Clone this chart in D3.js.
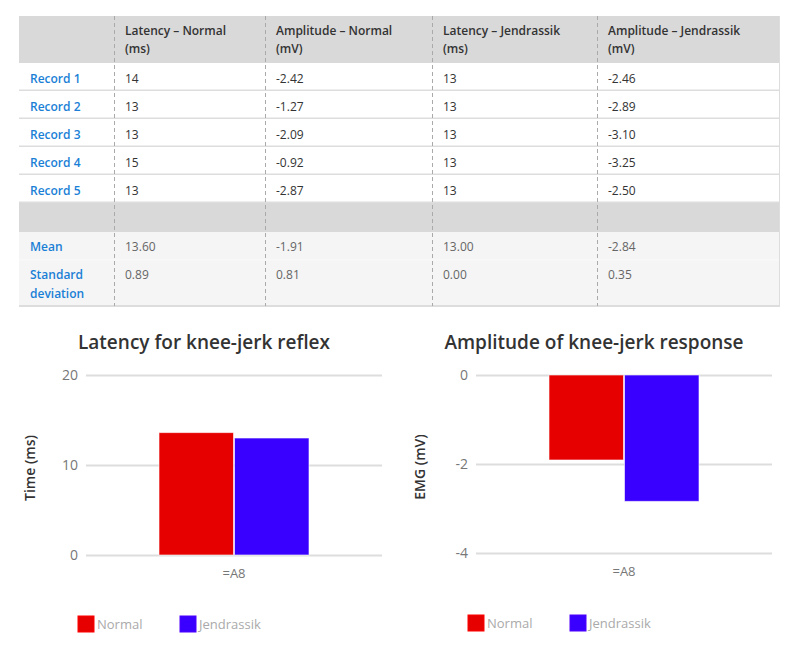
<!DOCTYPE html>
<html>
<head>
<meta charset="utf-8">
<script src="https://cdn.jsdelivr.net/npm/d3@7"></script>
<style>
  body { margin: 0; background: #fff; font-family: "Open Sans", sans-serif; }
  svg text { font-family: "Open Sans", sans-serif; }
</style>
</head>
<body>
<svg id="chart" width="791" height="648"></svg>
<script>
// table contents
var headers = [["", ""], ["Latency \u2013 Normal", "(ms)"], ["Amplitude \u2013 Normal", "(mV)"],
               ["Latency \u2013 Jendrassik", "(ms)"], ["Amplitude \u2013 Jendrassik", "(mV)"]];
var records = ["Record 1", "Record 2", "Record 3", "Record 4", "Record 5"];
var latencyNormal = ["14", "13", "13", "15", "13"];
var amplitudeNormal = ["-2.42", "-1.27", "-2.09", "-0.92", "-2.87"];
var latencyJendrassik = ["13", "13", "13", "13", "13"];
var amplitudeJendrassik = ["-2.46", "-2.89", "-3.10", "-3.25", "-2.50"];
var statLabels = [["Mean"], ["Standard", "deviation"]];
var statValues = [["13.60", "-1.91", "13.00", "-2.84"], ["0.89", "0.81", "0.00", "0.35"]];

// chart data
var series = ["Normal", "Jendrassik"];
var colors = ["#e60000", "#3a00ff"];
var category = ["=A8"];
var latencyMeans = [13.6, 13.0];
var amplitudeMeans = [-1.91, -2.84];
var latencyTicks = [0, 10, 20];
var amplitudeTicks = [0, -2, -4];

var svg = d3.select('#chart');

/* ---------- table ---------- */
var colX = [19, 114, 265, 432, 597, 780];
var tbl = svg.append('g').attr('class', 'table');

// header
tbl.append('rect').attr('x', 19).attr('y', 16).attr('width', 761).attr('height', 47).attr('fill', '#d9d9d9');
headers.forEach(function (h, i) {
    h.forEach(function (line, j) {
        tbl.append('text').attr('x', colX[i] + 11).attr('y', 35 + j * 18)
            .attr('font-size', 12).attr('font-weight', 600).attr('fill', '#333').text(line);
    });
});

// record rows
var rowTop = 63, rowH = 28;
records.forEach(function (r, i) {
    var y = rowTop + i * rowH;
    tbl.append('rect').attr('x', 19).attr('y', y).attr('width', 761).attr('height', rowH).attr('fill', '#fff');
    tbl.append('line').attr('x1', 19).attr('x2', 780).attr('y1', y + rowH - 0.5).attr('y2', y + rowH - 0.5)
        .attr('stroke', '#ddd').attr('stroke-width', 2);
    var vals = [r, latencyNormal[i], amplitudeNormal[i], latencyJendrassik[i], amplitudeJendrassik[i]];
    vals.forEach(function (v, c) {
        tbl.append('text').attr('x', colX[c] + 11).attr('y', y + 20)
            .attr('font-size', 12).attr('font-weight', c === 0 ? 600 : 400)
            .attr('fill', c === 0 ? '#1a7fd6' : '#333').text(v);
    });
});

// empty separator row
tbl.append('rect').attr('x', 19).attr('y', 203).attr('width', 761).attr('height', 29).attr('fill', '#d9d9d9');

// stats rows
tbl.append('rect').attr('x', 19).attr('y', 232).attr('width', 761).attr('height', 74).attr('fill', '#f5f5f5');
tbl.append('line').attr('x1', 19).attr('x2', 780).attr('y1', 260).attr('y2', 260).attr('stroke', '#fafafa');
tbl.append('line').attr('x1', 19).attr('x2', 780).attr('y1', 306).attr('y2', 306).attr('stroke', '#ddd').attr('stroke-width', 2);
tbl.append('line').attr('x1', 779.5).attr('x2', 779.5).attr('y1', 16).attr('y2', 306).attr('stroke', '#ddd');
var statY = [251, 279];
statLabels.forEach(function (lab, i) {
    lab.forEach(function (line, j) {
        tbl.append('text').attr('x', colX[0] + 11).attr('y', statY[i] + j * 19)
            .attr('font-size', 12).attr('font-weight', 600).attr('fill', '#1a7fd6').text(line);
    });
    statValues[i].forEach(function (v, c) {
        tbl.append('text').attr('x', colX[c + 1] + 11).attr('y', statY[i])
            .attr('font-size', 12).attr('fill', '#666').text(v);
    });
});

// dashed column dividers
colX.slice(1, 5).forEach(function (x) {
    tbl.append('line').attr('x1', x + 0.5).attr('x2', x + 0.5).attr('y1', 16).attr('y2', 306)
        .attr('stroke', '#aaa').attr('stroke-dasharray', '4,3');
});

/* ---------- bar charts ---------- */
function barChart(opt) {
    var g = svg.append('g');
    var y = d3.scaleLinear().domain(opt.domain).range([opt.bottom, opt.top]);
    var x0 = d3.scaleBand().domain(category).range([opt.left, opt.right]);
    var x1 = d3.scaleBand().domain(series).range([0, 150]).paddingInner(0.013);

    g.append('text').attr('x', opt.titleX).attr('y', 349).attr('text-anchor', 'middle')
        .attr('font-size', 19).attr('font-weight', 600).attr('fill', '#333').text(opt.title);

    var axis = d3.axisLeft(y).tickValues(opt.ticks).tickFormat(function (d) { return String(d); })
        .tickSize(-(opt.right - opt.left)).tickPadding(8);
    var ag = g.append('g').attr('transform', 'translate(' + opt.left + ',0)').call(axis);
    ag.select('.domain').remove();
    ag.selectAll('.tick line').attr('stroke', '#ddd').attr('stroke-width', 2);
    ag.selectAll('.tick text').attr('font-size', 14).attr('fill', '#777').attr('font-family', '"Open Sans", sans-serif');

    g.append('text').attr('transform', 'translate(' + opt.labelX + ',' + ((opt.top + opt.bottom) / 2 + 3) + ') rotate(-90)')
        .attr('text-anchor', 'middle').attr('font-size', 14).attr('font-weight', 600)
        .attr('fill', '#333').text(opt.yLabel);

    var cx = x0(category[0]) + x0.bandwidth() / 2 - 75;
    g.selectAll('.bar').data(opt.values).enter().append('rect')
        .attr('class', 'bar')
        .attr('x', function (d, i) { return cx + x1(series[i]); })
        .attr('width', x1.bandwidth())
        .attr('y', function (d) { return y(Math.max(0, d)); })
        .attr('height', function (d) { return Math.abs(y(d) - y(0)); })
        .attr('fill', function (d, i) { return colors[i]; })
        .attr('stroke', '#fff').attr('stroke-opacity', 0.6);

    g.append('text').attr('x', x0(category[0]) + x0.bandwidth() / 2).attr('y', opt.catY)
        .attr('text-anchor', 'middle').attr('font-size', 13).attr('fill', '#777').text(category[0]);

    // legend
    series.forEach(function (s, i) {
        var lx = opt.legendX + i * 102;
        g.append('rect').attr('x', lx).attr('y', opt.legendY - 8).attr('width', 16).attr('height', 16)
            .attr('fill', colors[i]).attr('stroke', d3.color(colors[i]).brighter(0.8)).attr('stroke-width', 1);
        g.append('text').attr('x', lx + 19).attr('y', opt.legendY + 5)
            .attr('font-size', 13).attr('fill', '#aaa').text(s);
    });
}

barChart({
    title: 'Latency for knee-jerk reflex', titleX: 204, yLabel: 'Time (ms)', labelX: 35,
    domain: [0, 20], ticks: latencyTicks, values: latencyMeans,
    top: 375, bottom: 555, left: 86, right: 382, catY: 578, legendX: 78, legendY: 624
});
barChart({
    title: 'Amplitude of knee-jerk response', titleX: 594, yLabel: 'EMG (mV)', labelX: 425,
    domain: [-4, 0], ticks: amplitudeTicks, values: amplitudeMeans,
    top: 375, bottom: 553, left: 476, right: 772, catY: 576, legendX: 468, legendY: 623
});
</script>
</body>
</html>
